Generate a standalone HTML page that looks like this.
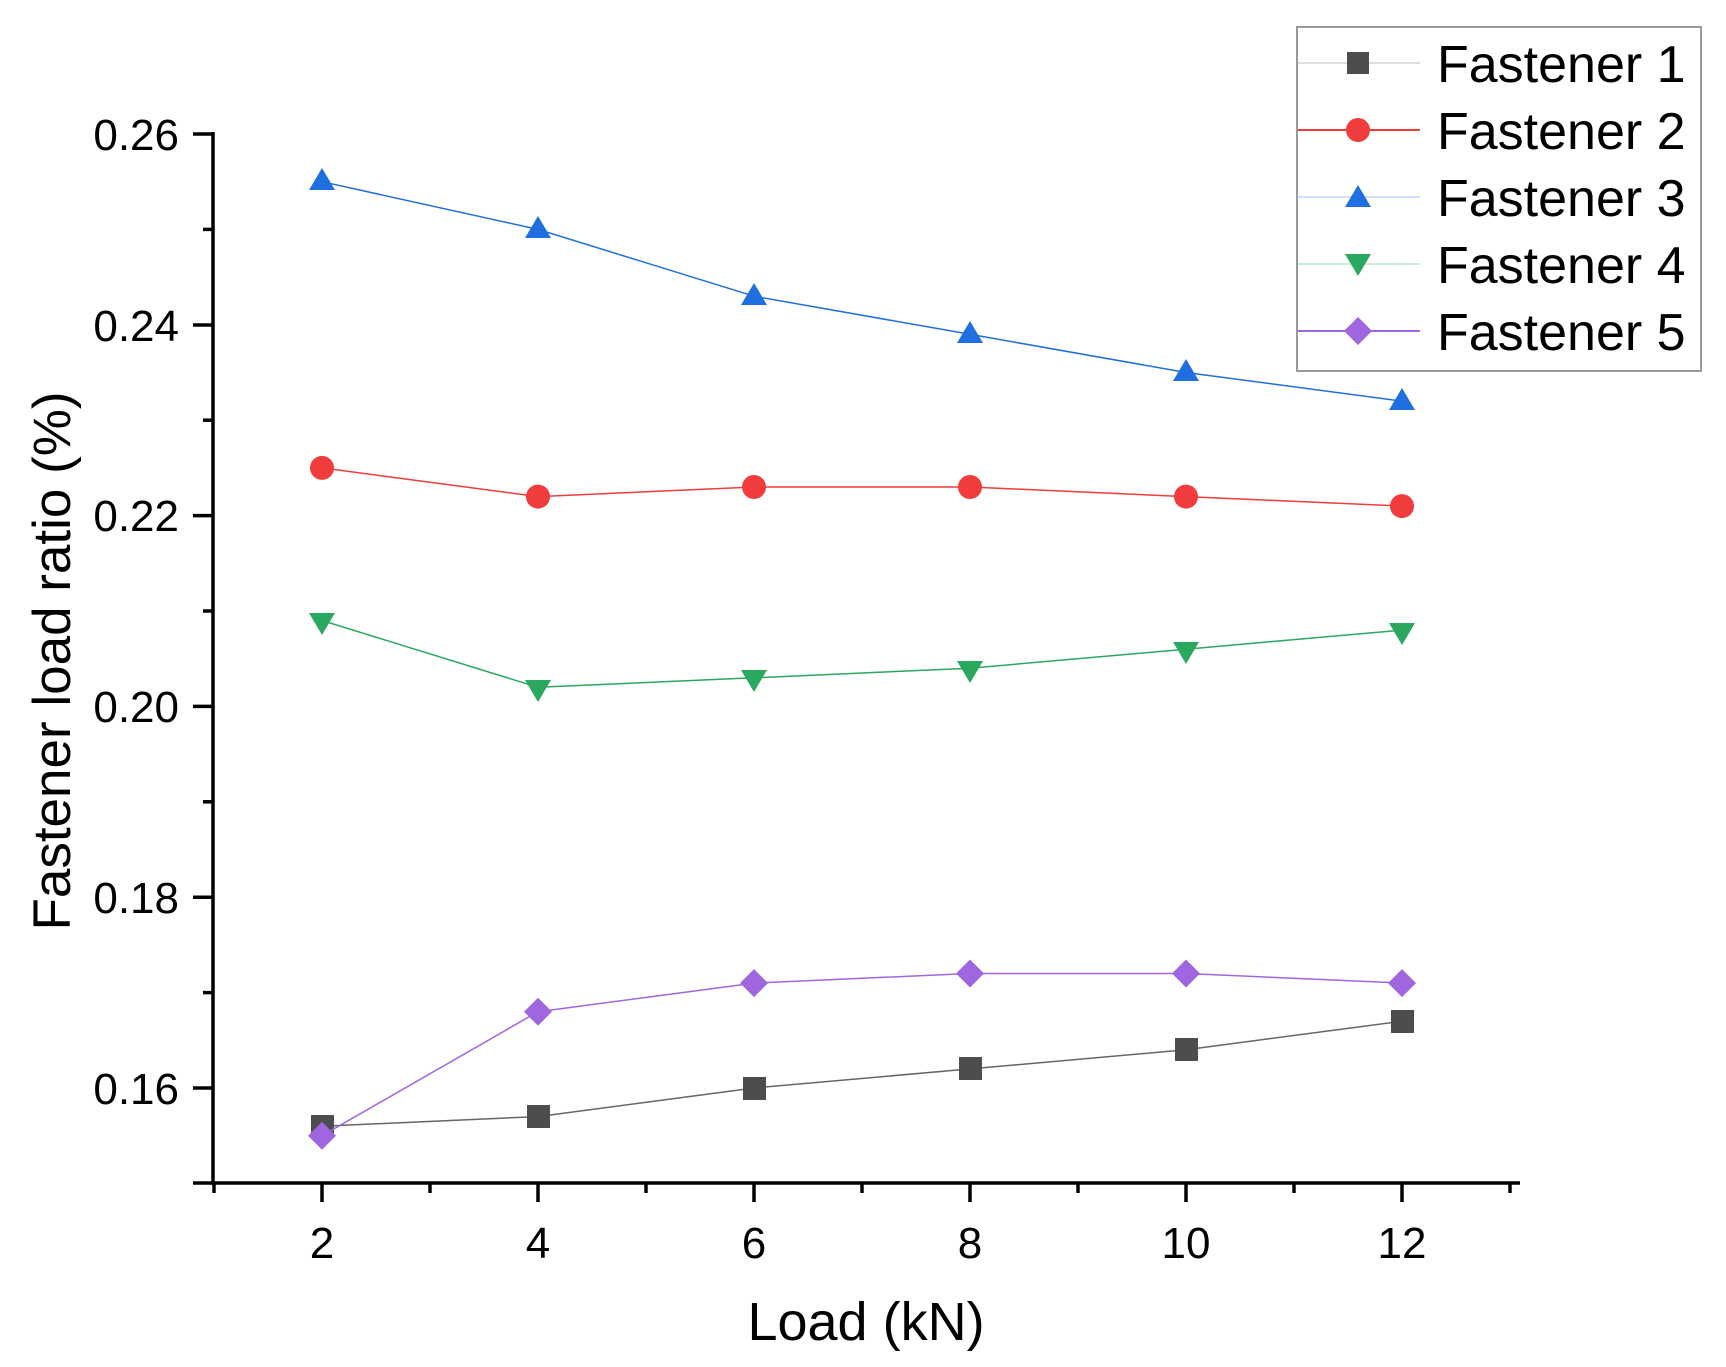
<!DOCTYPE html>
<html><head><meta charset="utf-8"><style>body{margin:0;background:#fff}svg{display:block}</style></head>
<body>
<svg width="1726" height="1367" viewBox="0 0 1726 1367" xmlns="http://www.w3.org/2000/svg" font-family="Liberation Sans, sans-serif">
<rect width="1726" height="1367" fill="#fff"/>
<g stroke="#000" stroke-width="3.5" fill="none">
<line x1="213" y1="132" x2="213" y2="1185"/>
<line x1="193" y1="1183" x2="1520" y2="1183"/>
<line x1="193" y1="134" x2="213" y2="134"/>
<line x1="193" y1="325" x2="213" y2="325"/>
<line x1="193" y1="515.6" x2="213" y2="515.6"/>
<line x1="193" y1="706.4" x2="213" y2="706.4"/>
<line x1="193" y1="897.2" x2="213" y2="897.2"/>
<line x1="193" y1="1088" x2="213" y2="1088"/>
<line x1="203" y1="229.4" x2="213" y2="229.4"/>
<line x1="203" y1="420.2" x2="213" y2="420.2"/>
<line x1="203" y1="611" x2="213" y2="611"/>
<line x1="203" y1="801.8" x2="213" y2="801.8"/>
<line x1="203" y1="992.6" x2="213" y2="992.6"/>
<line x1="322" y1="1183" x2="322" y2="1202"/>
<line x1="538" y1="1183" x2="538" y2="1202"/>
<line x1="754" y1="1183" x2="754" y2="1202"/>
<line x1="970" y1="1183" x2="970" y2="1202"/>
<line x1="1186" y1="1183" x2="1186" y2="1202"/>
<line x1="1402" y1="1183" x2="1402" y2="1202"/>
<line x1="430" y1="1183" x2="430" y2="1193"/>
<line x1="646" y1="1183" x2="646" y2="1193"/>
<line x1="862" y1="1183" x2="862" y2="1193"/>
<line x1="1078" y1="1183" x2="1078" y2="1193"/>
<line x1="1294" y1="1183" x2="1294" y2="1193"/>
<line x1="1510" y1="1183" x2="1510" y2="1193"/>
<line x1="214" y1="1183" x2="214" y2="1193"/>
</g>
<g font-size="44" fill="#000" text-anchor="end">
<text x="179" y="150">0.26</text>
<text x="179" y="341">0.24</text>
<text x="179" y="531">0.22</text>
<text x="179" y="722">0.20</text>
<text x="179" y="913">0.18</text>
<text x="179" y="1104">0.16</text>
</g>
<g font-size="44" fill="#000" text-anchor="middle">
<text x="322" y="1258">2</text>
<text x="538" y="1258">4</text>
<text x="754" y="1258">6</text>
<text x="970" y="1258">8</text>
<text x="1186" y="1258">10</text>
<text x="1402" y="1258">12</text>
</g>
<text x="866" y="1340" font-size="54" text-anchor="middle">Load (kN)</text>
<text transform="translate(70,661) rotate(-90)" font-size="53" text-anchor="middle">Fastener load ratio (%)</text>
<polyline fill="none" stroke="#666" stroke-width="1.5" points="322,1126.2 538,1116.6 754,1088 970,1068.9 1186,1049.8 1402,1021.2"/>
<g fill="#4d4d4d">
<rect x="311" y="1115" width="23" height="23"/>
<rect x="527" y="1105" width="23" height="23"/>
<rect x="743" y="1077" width="23" height="23"/>
<rect x="959" y="1057" width="23" height="23"/>
<rect x="1175" y="1038" width="23" height="23"/>
<rect x="1391" y="1010" width="23" height="23"/>
</g>
<polyline fill="none" stroke="#f03c3c" stroke-width="1.5" points="322,467.9 538,496.6 754,487 970,487 1186,496.6 1402,506.1"/>
<g fill="#f03c3c">
<circle cx="322" cy="467.9" r="12"/><circle cx="538" cy="496.6" r="12"/><circle cx="754" cy="487" r="12"/><circle cx="970" cy="487" r="12"/><circle cx="1186" cy="496.6" r="12"/><circle cx="1402" cy="506.1" r="12"/>
</g>
<polyline fill="none" stroke="#1f6fe0" stroke-width="1.5" points="322,181.7 538,229.4 754,296.2 970,334.3 1186,372.5 1402,401.1"/>
<g fill="#1f6fe0">
<polygon points="322,168 335,190 309,190"/><polygon points="538,216 551,238 525,238"/><polygon points="754,283 767,305 741,305"/><polygon points="970,321 983,343 957,343"/><polygon points="1186,359 1199,381 1173,381"/><polygon points="1402,388 1415,410 1389,410"/>
</g>
<polyline fill="none" stroke="#2aa860" stroke-width="1.5" points="322,620.5 538,687.3 754,677.8 970,668.2 1186,649.2 1402,630.1"/>
<g fill="#2aa860">
<polygon points="309,613 335,613 322,635"/><polygon points="525,680 551,680 538,702"/><polygon points="741,670 767,670 754,692"/><polygon points="957,661 983,661 970,683"/><polygon points="1173,642 1199,642 1186,664"/><polygon points="1389,623 1415,623 1402,645"/>
</g>
<polyline fill="none" stroke="#a066e0" stroke-width="1.5" points="322,1135.7 538,1011.7 754,983.1 970,973.5 1186,973.5 1402,983.1"/>
<g fill="#a066e0">
<polygon points="322,1121.7 336,1135.7 322,1149.7 308,1135.7"/>
<polygon points="538,997.7 552,1011.7 538,1025.7 524,1011.7"/>
<polygon points="754,969.1 768,983.1 754,997.1 740,983.1"/>
<polygon points="970,959.5 984,973.5 970,987.5 956,973.5"/>
<polygon points="1186,959.5 1200,973.5 1186,987.5 1172,973.5"/>
<polygon points="1402,969.1 1416,983.1 1402,997.1 1388,983.1"/>
</g>
<rect x="1297" y="27" width="404" height="344" fill="#fff" stroke="#999" stroke-width="2"/>
<g stroke-width="2">
<line x1="1298" y1="63" x2="1420" y2="63" stroke="#ddd"/>
<line x1="1298" y1="130" x2="1420" y2="130" stroke="#f03c3c"/>
<line x1="1298" y1="197" x2="1420" y2="197" stroke="#cfe0f8"/>
<line x1="1298" y1="264" x2="1420" y2="264" stroke="#cfeadb"/>
<line x1="1298" y1="331" x2="1420" y2="331" stroke="#a066e0"/>
</g>
<rect x="1347" y="52" width="22" height="22" fill="#4d4d4d"/>
<circle cx="1358" cy="130" r="12" fill="#f03c3c"/>
<polygon points="1358,185 1371,207 1345,207" fill="#1f6fe0"/>
<polygon points="1345,254 1371,254 1358,276" fill="#2aa860"/>
<polygon points="1358,317 1372,331 1358,345 1344,331" fill="#a066e0"/>
<g font-size="52" fill="#000">
<text x="1437" y="82">Fastener 1</text>
<text x="1437" y="149">Fastener 2</text>
<text x="1437" y="216">Fastener 3</text>
<text x="1437" y="283">Fastener 4</text>
<text x="1437" y="350">Fastener 5</text>
</g>
</svg>
</body></html>
